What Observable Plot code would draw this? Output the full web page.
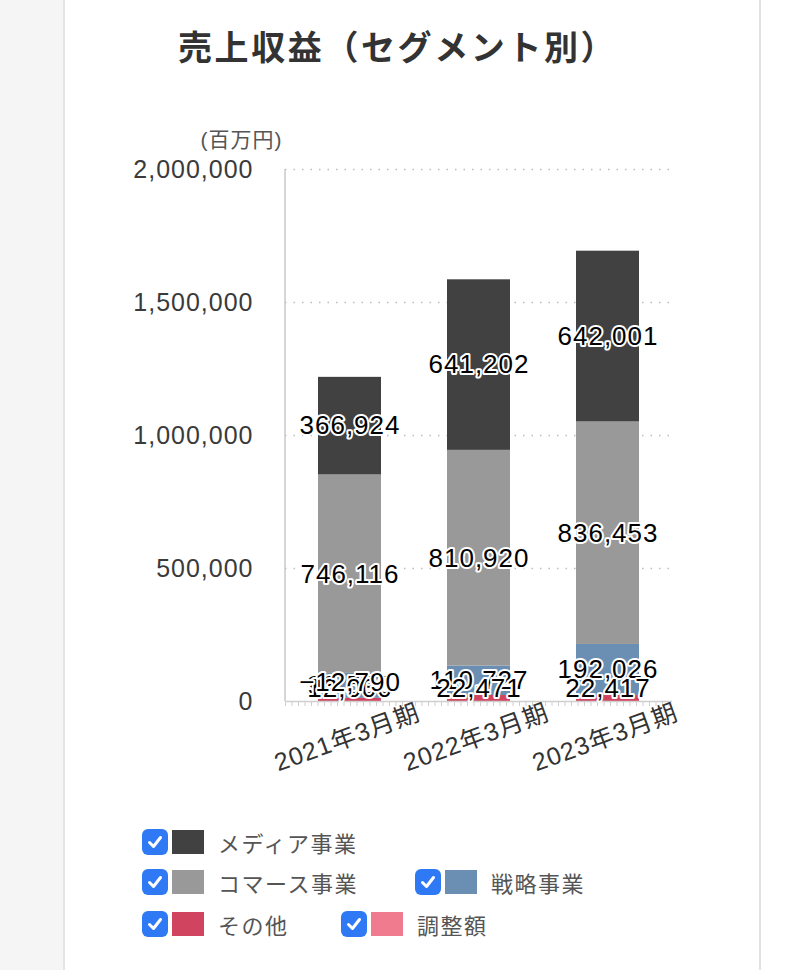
<!DOCTYPE html>
<html>
<head>
<meta charset="utf-8">
<script src="https://cdn.jsdelivr.net/npm/d3@7"></script>
<script src="https://cdn.jsdelivr.net/npm/@observablehq/plot@0.6"></script>
<style>
  html, body { margin: 0; padding: 0; background: #fff; }
  body { width: 800px; height: 970px; position: relative; overflow: hidden;
         font-family: "Liberation Sans", "Noto Sans CJK JP", sans-serif; }
  .strip { position: absolute; left: 0; top: 0; width: 63px; height: 970px; background: #f5f5f5; border-right: 2px solid #e4e4e4; }
  .rborder { position: absolute; left: 759px; top: 0; width: 2px; height: 970px; background: #e2e2e2; }
  .title { position: absolute; left: 178px; top: 22px; font-family: "Noto Sans CJK JP", sans-serif; font-weight: 700;
           font-size: 34px; letter-spacing: 2.6px; color: #333; white-space: nowrap; line-height: 48px; }
  #chart { position: absolute; left: 0; top: 100px; }
  .leg { position: absolute; display: flex; align-items: center; height: 28px; }
  .cb { width: 26px; height: 26px; border-radius: 6px; background: #3079f4; display: flex; align-items: center; justify-content: center; }
  .sw { width: 32px; height: 24px; margin-left: 4px; }
  .lt { margin-left: 14px; font-family: "Noto Sans CJK JP", sans-serif; font-size: 22px; color: #555; letter-spacing: 1.5px; white-space: nowrap; }
</style>
</head>
<body>
<div class="strip"></div>
<div class="rborder"></div>
<div class="title">売上収益（セグメント別）</div>
<div id="chart"></div>
<div id="legend"></div>
<script>
// ---- data ----
const years = ["2021年3月期", "2022年3月期", "2023年3月期"];
const segments = ["メディア事業", "コマース事業", "戦略事業", "その他", "調整額"];
const segmentColors = ["#414141", "#999999", "#6b8fb3", "#d1445f", "#f07a8e"];
const media = [366924, 641202, 642001];
const commerce = [746116, 810920, 836453];
const strategic = [93596, 110727, 192026];
const other = [12000, 22471, 22417];
const adjustment = [-12790, -17899, -20520];
const adjustmentLabelShown = [true, false, false];
const yTicks = [0, 500000, 1000000, 1500000, 2000000];
const unitLabel = "(百万円)";

const seriesValues = {
  "メディア事業": media, "コマース事業": commerce, "戦略事業": strategic, "その他": other, "調整額": adjustment
};
// stacking order bottom -> top
const stackOrder = ["その他", "戦略事業", "コマース事業", "メディア事業", "調整額"];

const rows = [];
years.forEach((yr, i) => {
  stackOrder.forEach(s => rows.push({year: yr, segment: s, value: seriesValues[s][i]}));
});

// label positions from cumulative stacks
const fmt = d3.format(",");
const labels = [];
const drawOrder = ["メディア事業", "コマース事業", "戦略事業", "その他", "調整額"];
years.forEach((yr, i) => {
  let cum = 0;
  const mids = {};
  ["その他", "戦略事業", "コマース事業", "メディア事業"].forEach(s => {
    const v = seriesValues[s][i];
    mids[s] = cum + v / 2;
    cum += v;
  });
  drawOrder.forEach(s => {
    const v = seriesValues[s][i];
    if (s === "調整額") {
      if (adjustmentLabelShown[i]) labels.push({year: yr, y: 70000, t: fmt(v), order: 4});
    } else {
      labels.push({year: yr, y: Math.max(mids[s], 49000), t: fmt(v), order: drawOrder.indexOf(s)});
    }
  });
});
labels.sort((a, b) => a.order - b.order);

const chart = Plot.plot({
  width: 800,
  height: 680,
  marginLeft: 285,
  marginRight: 128,
  marginTop: 69,
  marginBottom: 79,
  style: {fontFamily: "'Liberation Sans', 'Noto Sans CJK JP', sans-serif", letterSpacing: "1px", background: "transparent"},
  x: {domain: years, paddingInner: 0.51, paddingOuter: 0.255, axis: null},
  y: {domain: [0, 2000000], axis: null},
  color: {domain: segments, range: segmentColors},
  marks: [
    Plot.ruleY(yTicks.filter(d => d > 0), {stroke: "#bdbdbd", strokeWidth: 1.5, strokeDasharray: "1.5 7"}),
    Plot.barY(rows, Plot.stackY({x: "year", y: "value", z: "segment", fill: "segment", order: null, clip: true})),
    Plot.ruleY([0], {stroke: "#cfcfcf", strokeWidth: 1.5}),
    Plot.ruleY([0], {stroke: "#cfcfcf", strokeWidth: 4, dy: 2.5, strokeDasharray: "1 5.5"}),
    Plot.axisY({ticks: yTicks, tickFormat: fmt, tickSize: 0, tickPadding: 32, fontSize: 25, fill: "#3a3a3a", ariaLabel: "yticks"}),
    Plot.text(labels, {x: "year", y: "y", text: "t", fontSize: 26, fill: "#000", stroke: "#fff", strokeWidth: 4, paintOrder: "stroke", strokeLinejoin: "round"}),
    Plot.text(years, {x: d => d, frameAnchor: "bottom", dy: 44, rotate: -20, fontSize: 25, fill: "#333"}),
    Plot.text([unitLabel], {frameAnchor: "top-left", textAnchor: "end", dx: -3, dy: -37, fontSize: 21, fill: "#555"})
  ]
});

// y axis line via library scale
const ys = chart.scale("y");
const svg = d3.select(chart);
svg.append("line")
  .attr("x1", 285).attr("x2", 285)
  .attr("y1", ys.apply(2000000)).attr("y2", ys.apply(0))
  .attr("stroke", "#c8c8c8").attr("stroke-width", 1.5);
svg.selectAll('g[aria-label="y-axis tick label"] text, g[aria-label="yticks"] text').style("letter-spacing", "1.8px");

document.getElementById("chart").appendChild(chart);

// ---- legend ----
const legendLayout = [
  {seg: "メディア事業", left: 142, top: 828},
  {seg: "コマース事業", left: 142, top: 868},
  {seg: "戦略事業", left: 415, top: 868},
  {seg: "その他", left: 142, top: 910},
  {seg: "調整額", left: 341, top: 910}
];
const legend = document.getElementById("legend");
legendLayout.forEach(({seg, left, top}) => {
  const el = document.createElement("div");
  el.className = "leg";
  el.style.left = left + "px";
  el.style.top = top + "px";
  const col = segmentColors[segments.indexOf(seg)];
  el.innerHTML = `<div class="cb"><svg width="18" height="18" viewBox="0 0 18 18"><path d="M3.5 9.5 L7.5 13.5 L14.5 4.5" fill="none" stroke="#fff" stroke-width="3" stroke-linecap="round" stroke-linejoin="round"/></svg></div><div class="sw" style="background:${col}"></div><div class="lt">${seg}</div>`;
  legend.appendChild(el);
});
</script>
</body>
</html>
